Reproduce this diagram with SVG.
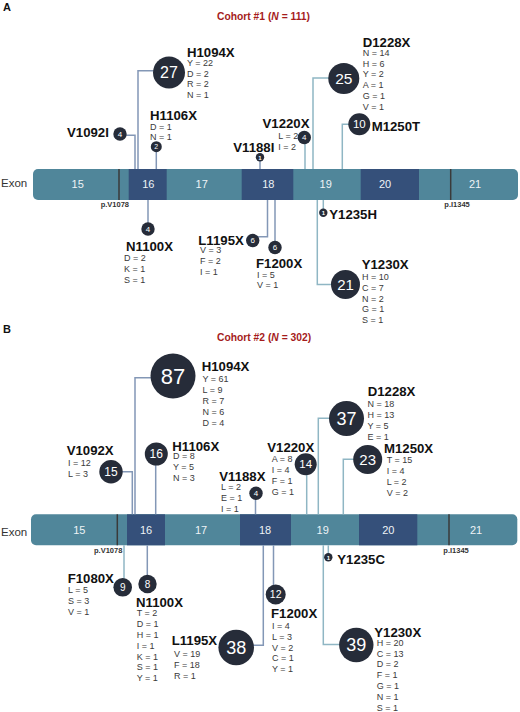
<svg xmlns="http://www.w3.org/2000/svg" width="520" height="712" viewBox="0 0 520 712">
<style>
text{font-family:"Liberation Sans",Arial,sans-serif}
.pl{font-size:11px;font-weight:bold;fill:#111}
.co{font-size:10.3px;font-weight:bold;fill:#a51c1c}
.ex{font-size:11.5px;fill:#333}
.en{font-size:11px;fill:#eef3f6;text-anchor:middle}
.pv{font-size:7.5px;font-weight:bold;fill:#333}
.lbl{font-size:13.2px;font-weight:bold;fill:#111}
.sub{font-size:9px;fill:#3a3a3a}
.dot{fill:#262c39}
.num{fill:#fff;text-anchor:middle}
.cb{stroke:#8397b6;stroke-width:1.5;fill:none}
.ct{stroke:#8fb6c4;stroke-width:1.5;fill:none}
.teal{fill:#50869a}
.dark{fill:#35507a}
.mk{stroke:#3a3a3a;stroke-width:1.5}
</style>

<!-- Panel A -->
<text class="pl" x="3" y="11">A</text>
<text class="co" x="217" y="19.5">Cohort #1 (<tspan font-style="italic">N</tspan> = 111)</text>

<g id="exonbar-A">
  <rect class="teal" x="33" y="169" width="485" height="31" rx="5"/>
  <rect class="dark" x="128.7" y="169" width="38" height="31"/>
  <rect class="dark" x="241.7" y="169" width="51.6" height="31"/>
  <rect class="dark" x="360.7" y="169" width="58.3" height="31"/>
  <line class="mk" x1="119" y1="169" x2="119" y2="200"/>
  <line class="mk" x1="450.7" y1="169" x2="450.7" y2="200"/>
  <text class="en" x="77.7" y="188.4">15</text>
  <text class="en" x="148.3" y="188.4">16</text>
  <text class="en" x="201.7" y="188.4">17</text>
  <text class="en" x="268.3" y="188.4">18</text>
  <text class="en" x="325.7" y="188.4">19</text>
  <text class="en" x="385" y="188.4">20</text>
  <text class="en" x="475" y="188.4">21</text>
  <text class="ex" x="1" y="187">Exon</text>
  <text class="pv" x="100.7" y="207.3">p.V1078</text>
  <text class="pv" x="444.3" y="207.3">p.I1345</text>
</g>

<g id="connectors-A">
  <path class="cb" d="M138,169 V70.7 H169"/>
  <path class="cb" d="M135,169 V135.3 H120"/>
  <path class="cb" d="M156.3,169 V146.7"/>
  <path class="cb" d="M260,169 V157.3"/>
  <path class="ct" d="M305,169 V137.5"/>
  <path class="ct" d="M313,169 V78 H343.8"/>
  <path class="ct" d="M342.3,169 V124.3 H359.3"/>
  <path class="cb" d="M148,200 V229"/>
  <path class="cb" d="M267.5,200 V236.7 H252.7"/>
  <path class="cb" d="M275,200 V247.5"/>
  <path class="ct" d="M323.3,200 V212.7"/>
  <path class="ct" d="M317.3,200 V284.5 H345.5"/>
</g>

<g id="A-H1094X">
  <circle class="dot" cx="169" cy="72.5" r="16"/>
  <text class="num" x="169" y="78.2" font-size="16">27</text>
  <text class="lbl" x="187" y="57">H1094X</text>
  <text class="sub" x="187" y="65.7">Y = 22<tspan x="187" dy="10.8">D = 2</tspan><tspan x="187" dy="10.8">R = 2</tspan><tspan x="187" dy="10.8">N = 1</tspan></text>
</g>
<g id="A-V1092I">
  <circle class="dot" cx="120" cy="134" r="6.7"/>
  <text class="num" x="120" y="136.9" font-size="8">4</text>
  <text class="lbl" x="67" y="136.7">V1092I</text>
</g>
<g id="A-H1106X">
  <circle class="dot" cx="156.3" cy="146.7" r="5.5"/>
  <text class="num" x="156.3" y="149.2" font-size="7">2</text>
  <text class="lbl" x="150" y="120">H1106X</text>
  <text class="sub" x="150" y="129.5">D = 1<tspan x="150" dy="10.8">N = 1</tspan></text>
</g>
<g id="A-V1188I">
  <circle class="dot" cx="260" cy="157.3" r="4.2"/>
  <text class="num" x="260" y="159.5" font-size="6" font-weight="bold">1</text>
  <text class="lbl" x="233.3" y="151.7">V1188I</text>
</g>
<g id="A-V1220X">
  <circle class="dot" cx="304.3" cy="137.5" r="6.7"/>
  <text class="num" x="304.3" y="140.4" font-size="8">4</text>
  <text class="lbl" x="262.5" y="128.3">V1220X</text>
  <text class="sub" x="278.3" y="138.5">L = 2<tspan x="278.3" dy="11.5">I = 2</tspan></text>
</g>
<g id="A-D1228X">
  <circle class="dot" cx="343.8" cy="78.5" r="15.5"/>
  <text class="num" x="343.8" y="84" font-size="15.5">25</text>
  <text class="lbl" x="362.7" y="47">D1228X</text>
  <text class="sub" x="362.7" y="55.7">N = 14<tspan x="362.7" dy="10.8">H = 6</tspan><tspan x="362.7" dy="10.8">Y = 2</tspan><tspan x="362.7" dy="10.8">A = 1</tspan><tspan x="362.7" dy="10.8">G = 1</tspan><tspan x="362.7" dy="10.8">V = 1</tspan></text>
</g>
<g id="A-M1250T">
  <circle class="dot" cx="359.3" cy="124.3" r="11"/>
  <text class="num" x="359.3" y="128.4" font-size="11.5">10</text>
  <text class="lbl" x="371.7" y="130.7">M1250T</text>
</g>
<g id="A-N1100X">
  <circle class="dot" cx="148" cy="229" r="6.7"/>
  <text class="num" x="148" y="231.9" font-size="8">4</text>
  <text class="lbl" x="126" y="250.7">N1100X</text>
  <text class="sub" x="124" y="261">D = 2<tspan x="124" dy="10.8">K = 1</tspan><tspan x="124" dy="10.8">S = 1</tspan></text>
</g>
<g id="A-L1195X">
  <circle class="dot" cx="252.7" cy="240.5" r="6.7"/>
  <text class="num" x="252.7" y="243.4" font-size="8">6</text>
  <text class="lbl" x="198.3" y="245">L1195X</text>
  <text class="sub" x="200" y="253.3">V = 3<tspan x="200" dy="10.8">F = 2</tspan><tspan x="200" dy="10.8">I = 1</tspan></text>
</g>
<g id="A-F1200X">
  <circle class="dot" cx="275" cy="247.5" r="6.7"/>
  <text class="num" x="275" y="250.4" font-size="8">6</text>
  <text class="lbl" x="256" y="268.3">F1200X</text>
  <text class="sub" x="257" y="277.5">I = 5<tspan x="257" dy="10.8">V = 1</tspan></text>
</g>
<g id="A-Y1235H">
  <circle class="dot" cx="323.3" cy="212.7" r="4.2"/>
  <text class="num" x="323.3" y="214.9" font-size="6" font-weight="bold">1</text>
  <text class="lbl" x="329.3" y="218.7">Y1235H</text>
</g>
<g id="A-Y1230X">
  <circle class="dot" cx="345.5" cy="284.5" r="14.5"/>
  <text class="num" x="345.5" y="289.9" font-size="15">21</text>
  <text class="lbl" x="361.7" y="269.3">Y1230X</text>
  <text class="sub" x="362" y="280">H = 10<tspan x="362" dy="10.8">C = 7</tspan><tspan x="362" dy="10.8">N = 2</tspan><tspan x="362" dy="10.8">G = 1</tspan><tspan x="362" dy="10.8">S = 1</tspan></text>
</g>

<!-- Panel B -->
<text class="pl" x="3" y="333">B</text>
<text class="co" x="217" y="341.3">Cohort #2 (<tspan font-style="italic">N</tspan> = 302)</text>

<g id="exonbar-B">
  <rect class="teal" x="31" y="514.3" width="486.3" height="31" rx="5"/>
  <rect class="dark" x="127" y="514.3" width="38" height="31"/>
  <rect class="dark" x="240" y="514.3" width="51" height="31"/>
  <rect class="dark" x="359" y="514.3" width="58.3" height="31"/>
  <line class="mk" x1="117.3" y1="514.3" x2="117.3" y2="545.3"/>
  <line class="mk" x1="449" y1="514.3" x2="449" y2="545.3"/>
  <text class="en" x="79.3" y="533.7">15</text>
  <text class="en" x="146" y="533.7">16</text>
  <text class="en" x="201" y="533.7">17</text>
  <text class="en" x="265" y="533.7">18</text>
  <text class="en" x="322.7" y="533.7">19</text>
  <text class="en" x="388.3" y="533.7">20</text>
  <text class="en" x="476" y="533.7">21</text>
  <text class="ex" x="1" y="535.8">Exon</text>
  <text class="pv" x="94" y="553.3">p.V1078</text>
  <text class="pv" x="443.3" y="553.3">p.I1345</text>
</g>

<g id="connectors-B">
  <path class="cb" d="M135,514.3 V377.7 H173"/>
  <path class="cb" d="M132.3,514.3 V471.7 H111"/>
  <path class="cb" d="M155.7,514.3 V454"/>
  <path class="cb" d="M255.5,514.3 V493.3"/>
  <path class="ct" d="M306.7,514.3 V464.3"/>
  <path class="ct" d="M318.3,514.3 V418.3 H346.5"/>
  <path class="ct" d="M343.3,514.3 V459.3 H367.7"/>
  <path class="ct" d="M124,545.3 V587.3"/>
  <path class="cb" d="M147.3,545.3 V584"/>
  <path class="cb" d="M263.3,545.3 V645.3 H236.2"/>
  <path class="cb" d="M273.5,545.3 V594.5"/>
  <path class="ct" d="M328.3,545.3 V557.3"/>
  <path class="ct" d="M323.3,545.3 V644.5 H356.3"/>
</g>

<g id="B-H1094X">
  <circle class="dot" cx="173" cy="376" r="22.5"/>
  <text class="num" x="173" y="383.9" font-size="22">87</text>
  <text class="lbl" x="201.7" y="370.7">H1094X</text>
  <text class="sub" x="202.5" y="382.3">Y = 61<tspan x="202.5" dy="10.8">L = 9</tspan><tspan x="202.5" dy="10.8">R = 7</tspan><tspan x="202.5" dy="10.8">N = 6</tspan><tspan x="202.5" dy="10.8">D = 4</tspan></text>
</g>
<g id="B-V1092X">
  <circle class="dot" cx="111" cy="471.7" r="11.7"/>
  <text class="num" x="111" y="476" font-size="12">15</text>
  <text class="lbl" x="66.7" y="455">V1092X</text>
  <text class="sub" x="68" y="466">I = 12<tspan x="68" dy="10.8">L = 3</tspan></text>
</g>
<g id="B-H1106X">
  <circle class="dot" cx="156.3" cy="454" r="11.5"/>
  <text class="num" x="156.3" y="458.3" font-size="12">16</text>
  <text class="lbl" x="172.3" y="450.7">H1106X</text>
  <text class="sub" x="173" y="459">D = 8<tspan x="173" dy="10.8">Y = 5</tspan><tspan x="173" dy="10.8">N = 3</tspan></text>
</g>
<g id="B-V1188X">
  <circle class="dot" cx="256" cy="493.3" r="6.7"/>
  <text class="num" x="256" y="496.2" font-size="8">4</text>
  <text class="lbl" x="219.3" y="481">V1188X</text>
  <text class="sub" x="221" y="490">L = 2<tspan x="221" dy="10.8">E = 1</tspan><tspan x="221" dy="10.8">I = 1</tspan></text>
</g>
<g id="B-V1220X">
  <circle class="dot" cx="305.7" cy="464.3" r="11"/>
  <text class="num" x="305.7" y="468.4" font-size="11.5">14</text>
  <text class="lbl" x="267.3" y="452">V1220X</text>
  <text class="sub" x="271.7" y="462.3">A = 8<tspan x="271.7" dy="10.8">I = 4</tspan><tspan x="271.7" dy="10.8">F = 1</tspan><tspan x="271.7" dy="10.8">G = 1</tspan></text>
</g>
<g id="B-D1228X">
  <circle class="dot" cx="346.5" cy="418.5" r="17.5"/>
  <text class="num" x="346.5" y="424.9" font-size="18">37</text>
  <text class="lbl" x="367.7" y="396">D1228X</text>
  <text class="sub" x="367.5" y="407.3">N = 18<tspan x="367.5" dy="10.8">H = 13</tspan><tspan x="367.5" dy="10.8">Y = 5</tspan><tspan x="367.5" dy="10.8">E = 1</tspan></text>
</g>
<g id="B-M1250X">
  <circle class="dot" cx="367.7" cy="459.5" r="14.5"/>
  <text class="num" x="367.7" y="464.9" font-size="15">23</text>
  <text class="lbl" x="384" y="453.3">M1250X</text>
  <text class="sub" x="386.7" y="463.3">T = 15<tspan x="386.7" dy="10.8">I = 4</tspan><tspan x="386.7" dy="10.8">L = 2</tspan><tspan x="386.7" dy="10.8">V = 2</tspan></text>
</g>
<g id="B-F1080X">
  <circle class="dot" cx="122.7" cy="587.3" r="9.3"/>
  <text class="num" x="122.7" y="590.9" font-size="10">9</text>
  <text class="lbl" x="67.7" y="582.7">F1080X</text>
  <text class="sub" x="68" y="593.3">L = 5<tspan x="68" dy="10.8">S = 3</tspan><tspan x="68" dy="10.8">V = 1</tspan></text>
</g>
<g id="B-N1100X">
  <circle class="dot" cx="147.5" cy="584" r="9.2"/>
  <text class="num" x="147.5" y="587.6" font-size="10">8</text>
  <text class="lbl" x="136" y="606.7">N1100X</text>
  <text class="sub" x="136.7" y="616.3">T = 2<tspan x="136.7" dy="10.8">D = 1</tspan><tspan x="136.7" dy="10.8">H = 1</tspan><tspan x="136.7" dy="10.8">I = 1</tspan><tspan x="136.7" dy="10.8">K = 1</tspan><tspan x="136.7" dy="10.8">S = 1</tspan><tspan x="136.7" dy="10.8">Y = 1</tspan></text>
</g>
<g id="B-L1195X">
  <circle class="dot" cx="236.2" cy="647.5" r="17.8"/>
  <text class="num" x="236.2" y="653.9" font-size="18">38</text>
  <text class="lbl" x="171.7" y="645">L1195X</text>
  <text class="sub" x="174" y="657.3">V = 19<tspan x="174" dy="10.8">F = 18</tspan><tspan x="174" dy="10.8">R = 1</tspan></text>
</g>
<g id="B-F1200X">
  <circle class="dot" cx="275.7" cy="594.5" r="10"/>
  <text class="num" x="275.7" y="598.3" font-size="10.5">12</text>
  <text class="lbl" x="271" y="618.3">F1200X</text>
  <text class="sub" x="272" y="629">I = 4<tspan x="272" dy="10.8">L = 3</tspan><tspan x="272" dy="10.8">V = 2</tspan><tspan x="272" dy="10.8">C = 1</tspan><tspan x="272" dy="10.8">Y = 1</tspan></text>
</g>
<g id="B-Y1235C">
  <circle class="dot" cx="328.3" cy="557.3" r="4.2"/>
  <text class="num" x="328.3" y="559.5" font-size="6" font-weight="bold">1</text>
  <text class="lbl" x="337.3" y="564.3">Y1235C</text>
</g>
<g id="B-Y1230X">
  <circle class="dot" cx="356.3" cy="645" r="17.2"/>
  <text class="num" x="356.3" y="651.4" font-size="18">39</text>
  <text class="lbl" x="374.3" y="636.7">Y1230X</text>
  <text class="sub" x="376.7" y="645.7">H = 20<tspan x="376.7" dy="10.8">C = 13</tspan><tspan x="376.7" dy="10.8">D = 2</tspan><tspan x="376.7" dy="10.8">F = 1</tspan><tspan x="376.7" dy="10.8">G = 1</tspan><tspan x="376.7" dy="10.8">N = 1</tspan><tspan x="376.7" dy="10.8">S = 1</tspan></text>
</g>
</svg>
